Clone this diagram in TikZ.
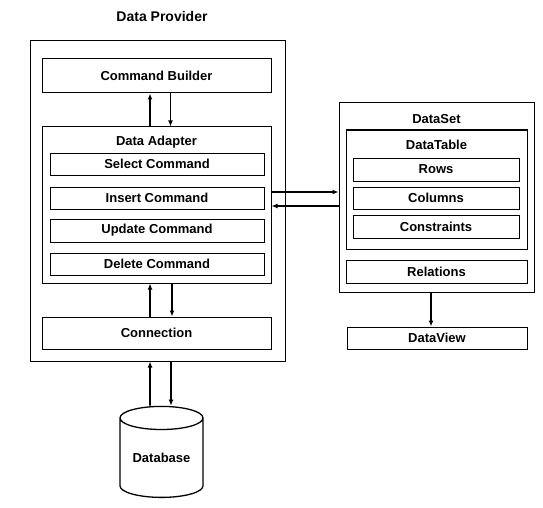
\documentclass[tikz,border=0pt]{standalone}
\usepackage{fontspec}
\setmainfont{Liberation Sans}
\usetikzlibrary{arrows.meta,shapes.geometric}

\begin{document}
\begin{tikzpicture}[x=1pt,y=-1pt,>={Latex[length=6pt,width=5pt]},
  font=\fontsize{13}{15}\selectfont\bfseries,
  b/.style={draw,line width=1pt,inner sep=0pt,align=center,minimum width=#1},
  b/.default=229pt,
  lbl/.style={inner sep=0pt,anchor=center},
  a/.style={->,line width=1.6pt}]
  \useasboundingbox (0,0) rectangle (543,508);
  \node[lbl,font=\fontsize{14}{16}\selectfont\bfseries] (title) at (162,16) {Data Provider};
  \node[b=255pt,minimum height=320pt] (prov) at (157.5,201) {};
  \node[b,minimum height=34pt] (cb) at (156.5,76) {Command Builder};
  \node[b,minimum height=156pt] (da) at (156.5,205) {};
  \node[lbl] (dalbl) at (156.5,142) {Data Adapter};
  \node[b=214pt,minimum height=22pt] (sel) at (157,164) {Select Command};
  \node[b=214pt,minimum height=22pt] (ins) at (157,198) {Insert Command};
  \node[b=214pt,minimum height=23pt] (upd) at (157,230.5) {Update Command};
  \node[b=214pt,minimum height=22pt] (del) at (157,264) {Delete Command};
  \node[b,minimum height=32pt] (conn) at (156.5,333) {Connection};
  \node[cylinder,shape border rotate=90,aspect=0.4,draw,line width=1.3pt,
    minimum width=83pt,minimum height=91pt,inner sep=0pt] (db) at (161.5,458) {Database};
  \node[b=195pt,minimum height=189pt] (ds) at (436.5,197.5) {};
  \node[lbl] (dslbl) at (436.5,119) {DataSet};
  \node[b=181pt,minimum height=119pt] (dt) at (436.5,189.5) {};
  \node[lbl] (dtlbl) at (436.5,145) {DataTable};
  \node[b=166pt,minimum height=23pt] (rows) at (436,169.5) {Rows};
  \node[b=166pt,minimum height=22pt] (cols) at (436,198) {Columns};
  \node[b=166pt,minimum height=23pt] (cons) at (436,226.5) {Constraints};
  \node[b=181pt,minimum height=23pt] (rel) at (436.5,271.5) {Relations};
  \node[b=180pt,minimum height=22pt] (dv) at (437,338) {DataView};
  \draw[a] ([xshift=-6.5pt]da.north) -- ([xshift=-6.5pt]cb.south);
  \draw[a] ([xshift=14pt]cb.south) -- ([xshift=14pt]da.north);
  \draw[a] ([xshift=-6.5pt]conn.north) -- ([xshift=-6.5pt]da.south);
  \draw[a] ([xshift=15.5pt]da.south) -- ([xshift=15.5pt]conn.north);
  \draw[a] ([xshift=-11.5pt]db.north) -- ([xshift=-7.5pt]prov.south);
  \draw[a] ([xshift=13.5pt]prov.south) -- ([xshift=9.5pt]db.north);
  \draw[a] ([yshift=13pt]da.east) -- ([yshift=13pt]da.east -| ds.west);
  \draw[a] ([yshift=-1pt]da.east -| ds.west) -- ([yshift=-1pt]da.east);
  \draw[a] ([xshift=-5.5pt]ds.south) -- ([xshift=-6pt]dv.north);
\end{tikzpicture}
\end{document}
